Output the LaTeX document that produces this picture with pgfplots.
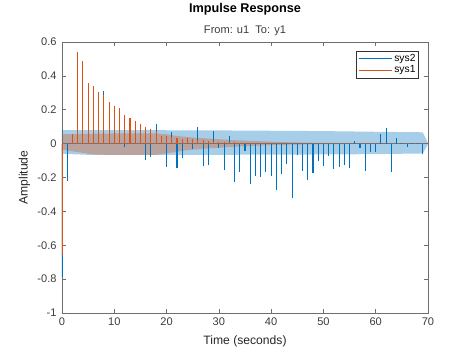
\documentclass[border=0pt]{standalone}
\usepackage{fontspec}
\setmainfont{Liberation Sans}
\usepackage{pgfplots}
\usepackage{pgfplotstable}
\pgfplotsset{compat=1.18}
\definecolor{mblue}{RGB}{0,114,189}
\definecolor{morange}{RGB}{217,83,25}
\definecolor{axgray}{RGB}{110,110,110}
\definecolor{txtgray}{RGB}{60,60,60}
\definecolor{zeroline}{RGB}{135,108,98}

\pgfplotstableread{
t v
0 -0.79
1 -0.22
2 0.02
3 0.03
4 0.03
5 0.02
6 0.03
7 0.02
8 0.312
9 0.02
10 0.02
11 0.02
12 -0.018
13 0.02
14 0.02
15 0.02
16 -0.097
17 -0.081
18 0.114
19 0.02
20 -0.14
21 0.067
22 -0.146
23 -0.083
24 0.02
25 -0.034
26 0.096
27 -0.13
28 -0.127
29 0.072
30 -0.026
31 -0.156
32 0.043
33 -0.225
34 -0.166
35 -0.042
36 -0.237
37 -0.19
38 -0.195
39 -0.166
40 -0.19
41 -0.276
42 -0.18
43 -0.123
44 -0.322
45 -0.067
46 -0.163
47 -0.215
48 -0.171
49 -0.1
50 -0.13
51 -0.073
52 -0.15
53 -0.136
54 -0.126
55 -0.142
56 0.015
57 -0.028
58 -0.16
59 -0.05
60 -0.048
61 0.057
62 0.09
63 -0.17
64 0.035
65 0.002
66 -0.022
67 0.002
68 0.001
69 -0.061
70 0
}\sysTwo

\pgfplotstableread{
t v
0 -0.66
1 0
2 0.055
3 0.539
4 0.488
5 0.356
6 0.342
7 0.306
8 0.287
9 0.246
10 0.222
11 0.208
12 0.169
13 0.153
14 0.135
15 0.116
16 0.100
17 0.086
18 0.075
19 0.048
20 0.045
21 0.040
22 0.032
23 0.030
24 0.035
25 0.028
26 0.024
27 0.020
28 0.018
29 0.015
30 0.012
31 0.010
32 0.009
33 0.008
34 0.006
35 0.005
36 0.004
37 0.004
38 0.003
39 0.003
40 0.002
}\sysOne

\begin{document}
\begin{tikzpicture}
\begin{axis}[
  at={(0,0)}, anchor=south west,
  scale only axis,
  width=274.5pt, height=203.25pt,
  xmin=0, xmax=70, ymin=-1, ymax=0.6,
  xtick={0,10,...,70},
  ytick={-1,-0.8,-0.6,-0.4,-0.2,0,0.2,0.4,0.6},
  tick align=inside,
  major tick length=2.8pt,
  axis line style={draw=axgray, line width=0.5pt},
  every tick/.style={draw=axgray, line width=0.5pt},
  tick label style={font=\fontsize{8.3}{9}\selectfont, text=txtgray},
  /pgf/number format/assume math mode=true,
  yticklabel style={xshift=-0.6pt},
  title={\textbf{Impulse Response}},
  title style={at={(0.5,1)}, anchor=center, yshift=18.75pt, font=\fontsize{9.5}{11}\selectfont, text=black},
  extra description/.code={
    \node[font=\fontsize{8.3}{9}\selectfont, text=txtgray, anchor=center, yshift=8.25pt] at (0.5,1) {From: u1~~To: y1};
  },
  xlabel={Time (seconds)},
  xlabel style={at={(0.5,0)}, anchor=center, yshift=-21pt, font=\fontsize{9.1}{10}\selectfont, text=black!85},
  ylabel={Amplitude},
  ylabel style={at={(-0.1025,0.5)}, anchor=center, font=\fontsize{9.1}{10}\selectfont, text=black!85},
  legend style={at={(1,1)}, anchor=north east, xshift=-6.75pt, yshift=-6.5pt,
    draw=black!80, line width=0.5pt, fill=white,
    font=\fontsize{7.7}{8.5}\selectfont, inner sep=1.2pt, row sep=-0.5pt,
    nodes={inner sep=1.2pt}},
  legend cell align=left,
  legend image code/.code={\draw[#1, line width=0.8pt] (0pt,0pt) -- (25pt,0pt);},
]
% confidence regions
\addplot[draw=none, fill=mblue, fill opacity=0.35, forget plot] coordinates {
 (0,0.08) (10,0.08) (20,0.079) (30,0.078) (40,0.076) (50,0.074) (60,0.070) (69,0.067) (70,0.003)
 (70,-0.003) (69,-0.058) (60,-0.062) (50,-0.064) (40,-0.065) (30,-0.066) (20,-0.067) (10,-0.067) (5,-0.066) (0,-0.06)
};
\addplot[draw=none, fill=morange, fill opacity=0.35, forget plot] coordinates {
 (0,0.055) (5,0.058) (10,0.06) (15,0.06) (18,0.06) (20,0.055) (22,0.045) (25,0.036) (28,0.03) (32,0.022) (37,0.015) (42,0.009) (48,0.005) (55,0.003) (62,0.001) (70,0)
 (70,0) (62,-0.001) (55,-0.002) (48,-0.004) (42,-0.007) (37,-0.012) (32,-0.02) (28,-0.028) (24,-0.038) (22,-0.048) (20,-0.058) (18,-0.066) (15,-0.067) (10,-0.067) (6,-0.064) (3,-0.05) (0,-0.035)
};
% zero line
\addplot[zeroline, line width=0.6pt, forget plot] coordinates {(0,0) (70,0)};
% stems
\addplot[ycomb, no markers, color=mblue, line width=0.8pt, forget plot] table[x=t, y=v] {\sysTwo};
\addplot[ycomb, no markers, color=morange, line width=0.8pt, forget plot] table[x=t, y=v] {\sysOne};
\addlegendimage{mblue}
\addlegendentry{sys2}
\addlegendimage{morange}
\addlegendentry{sys1}
\end{axis}
\pgfresetboundingbox
\path[use as bounding box] (-46.5pt,-31.5pt) rectangle (309pt,234.75pt);
\end{tikzpicture}
\end{document}
